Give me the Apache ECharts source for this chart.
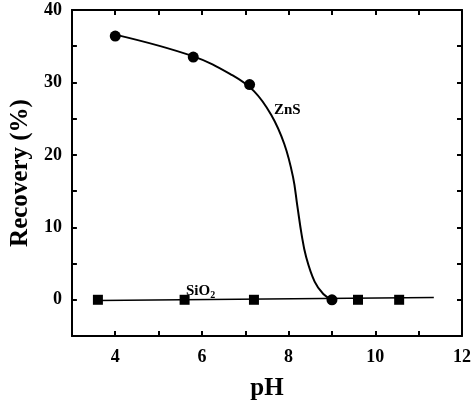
<!DOCTYPE html><html><head><meta charset="utf-8"><script src="https://cdn.jsdelivr.net/npm/echarts@6/dist/echarts.min.js"></script>
<style>html,body{margin:0;background:#fff}#c{width:474px;height:406px}</style></head><body><div id="c"></div><script>
const znsPoints=[[4,36.4],[5.8,33.5],[7.1,29.7],[9,0]];
const znsCurve=[[4,36.6],[5.8,33.6],[6.7,31],[7.2,28.8],[7.6,25.5],[7.9,21.5],[8.1,17],[8.2,13],[8.3,9],[8.4,6],[8.6,2.5],[8.8,0.8],[9,0]];
const sioPoints=[[3.6,0],[5.6,0],[7.2,0],[9.6,0],[10.55,0]];
const sioCurve=[[3.6,-0.1],[11.35,0.3]];
const F='Liberation Serif';
const ch=echarts.init(document.getElementById('c'));
const ax={axisLine:{show:true,onZero:false,lineStyle:{color:'#000',width:2}},axisTick:{inside:true,length:5,lineStyle:{color:'#000',width:2}},splitLine:{show:false}};
ch.setOption({animation:false,
grid:{left:62,right:11,top:10,bottom:70},
xAxis:[{type:'value',min:3,max:12,interval:1,...ax,name:'pH',nameLocation:'middle',nameGap:40,nameTextStyle:{fontFamily:F,fontWeight:'bold',fontSize:25,color:'#000'},
 axisLabel:{fontFamily:F,fontWeight:'bold',fontSize:18,color:'#000',margin:12,formatter:v=>v%2===0?v:''}},
 {type:'value',position:'top',min:3,max:12,interval:1,...ax,axisLabel:{show:false}}],
yAxis:[{type:'value',min:-5,max:40,interval:5,...ax,name:'Recovery (%)',nameLocation:'middle',nameGap:36,nameTextStyle:{fontFamily:F,fontWeight:'bold',fontSize:25,color:'#000'},
 axisLabel:{fontFamily:F,fontWeight:'bold',fontSize:18,color:'#000',margin:10,formatter:v=>v%10===0?v:''}},
 {type:'value',position:'right',min:-5,max:40,interval:5,...ax,axisLabel:{show:false}}],
series:[
{type:'line',data:znsCurve,smooth:0.4,showSymbol:false,lineStyle:{color:'#000',width:2}},
{type:'scatter',data:znsPoints,symbol:'circle',symbolSize:11,itemStyle:{color:'#000',opacity:1}},
{type:'line',data:sioCurve,showSymbol:false,lineStyle:{color:'#000',width:1.5}},
{type:'scatter',data:sioPoints,symbol:'rect',symbolSize:10,itemStyle:{color:'#000',opacity:1}}],
graphic:[{type:'text',left:274,top:103,style:{text:'ZnS',font:'bold 15px "Liberation Serif"',fill:'#000'}},
{type:'text',left:186,top:284,style:{text:'{a|SiO}{b|2}',rich:{a:{font:'bold 15px "Liberation Serif"',fill:'#000'},b:{font:'bold 10px "Liberation Serif"',fill:'#000',padding:[8,0,0,0]}}}}]
});
</script></body></html>
